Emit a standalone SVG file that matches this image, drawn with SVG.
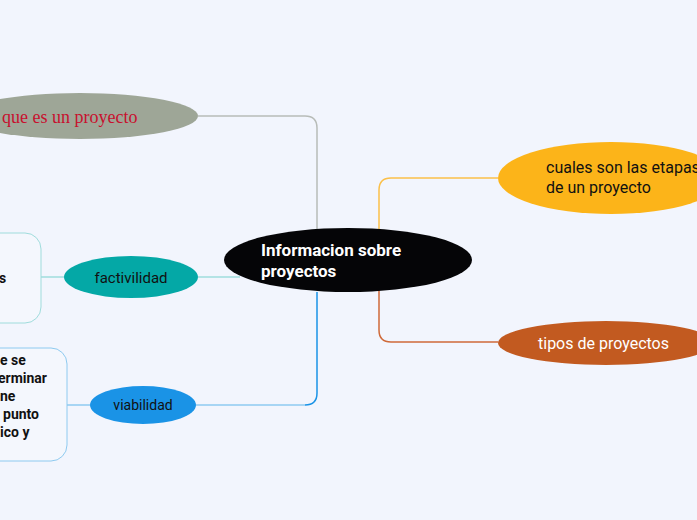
<svg xmlns="http://www.w3.org/2000/svg" width="697" height="520" viewBox="0 0 697 520">
<style>
text{font-family:Roboto,"Liberation Sans",sans-serif}
.c{fill:none;stroke-width:1.5}
.b{font-weight:bold;font-size:14px;fill:#111}
</style>
<rect width="697" height="520" fill="#f2f5fd"/>
<g id="connectors">
<path class="c" stroke="#b8bcb8" d="M198 116H305Q317 116 317 128V232"/>
<path class="c" stroke="#fbc04a" d="M498 178H391Q379 178 379 190V232"/>
<path class="c" stroke="#cf6a3a" d="M379 288V330Q379 342 391 342H498"/>
<path class="c" stroke="#9fdcdc" d="M198 277H240"/>
<path class="c" stroke="#9fdcdc" d="M41 277H64"/>
<path class="c" stroke="#8ecaf0" d="M196 405H305"/>
<path class="c" stroke="#1a93e6" d="M305 405Q317 405 317 393V292"/>
<path class="c" stroke="#8ecaf0" d="M67 405H90"/>
</g>
<g id="center"><ellipse cx="348" cy="260" rx="124" ry="32" fill="#050507"/>
<text x="261" y="256" font-size="17" font-weight="bold" fill="#fff">Informacion sobre</text>
<text x="261" y="277" font-size="17" font-weight="bold" fill="#fff">proyectos</text></g>
<g id="que"><ellipse cx="80" cy="116" rx="118" ry="23" fill="#9ea697"/>
<text x="2" y="123" font-size="18" fill="#c8102e" style="font-family:'Liberation Serif',serif">que es un proyecto</text></g>
<g id="etapas"><ellipse cx="611" cy="178" rx="113" ry="36" fill="#fcb419"/>
<text x="546" y="173" font-size="16" fill="#111">cuales son las etapas</text>
<text x="546" y="193" font-size="16" fill="#111">de un proyecto</text></g>
<g id="tipos"><ellipse cx="606" cy="343" rx="108" ry="22" fill="#c25a20"/>
<text x="538" y="349" font-size="16" fill="#fff">tipos de proyectos</text></g>
<g id="factivilidad"><ellipse cx="131" cy="277" rx="67" ry="21" fill="#04a8a6"/>
<text x="131" y="283" font-size="15" fill="#111" text-anchor="middle">factivilidad</text></g>
<g id="fbox"><rect x="-20" y="233" width="61" height="90" rx="16" fill="#f4f7fd" stroke="#9fdcdc"/>
<text class="b" x="-1" y="283">s</text></g>
<g id="viabilidad"><ellipse cx="143" cy="405" rx="53" ry="19" fill="#1a93e6"/>
<text x="143" y="410" font-size="14" fill="#111" text-anchor="middle">viabilidad</text></g>
<g id="vbox"><rect x="-20" y="348" width="87" height="113" rx="16" fill="#f4f7fd" stroke="#8ecaf0"/>
<text class="b" x="0" y="365">e se</text>
<text class="b" x="-2" y="383">erminar</text>
<text class="b" x="0" y="401">ne</text>
<text class="b" x="3" y="419">punto</text>
<text class="b" x="0" y="437">ico y</text></g>
</svg>
